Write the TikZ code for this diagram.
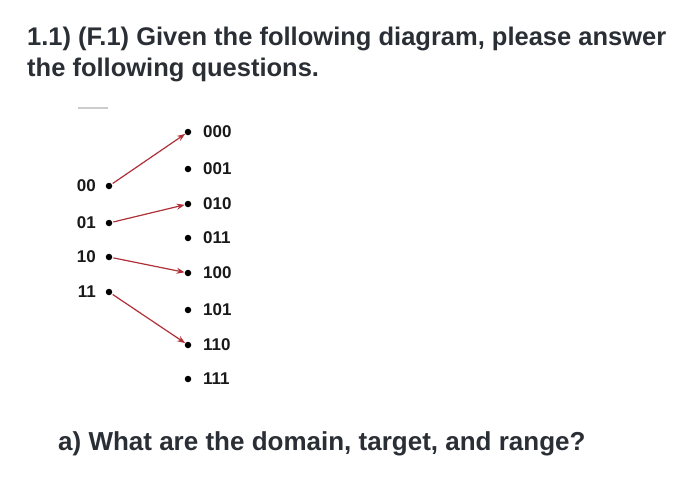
\documentclass[tikz,border=0pt]{standalone}
\usepackage{fontspec}
\setmainfont{Liberation Sans}
\usetikzlibrary{arrows.meta}
\definecolor{txt}{HTML}{2A2E35}
\definecolor{arr}{HTML}{B03038}
\tikzset{
  dot/.style={circle,fill=black,inner sep=0pt,minimum size=6.5pt},
  lbl/.style={inner sep=0pt,font=\bfseries\fontsize{17}{19}\selectfont,text=black!90},
  maparrow/.style={draw=arr,line width=1.2pt,-{Stealth[length=8pt,width=6pt]},shorten >=0pt,shorten <=1pt},
  heading/.style={inner sep=0pt,anchor=base west,text=txt,font=\bfseries\fontsize{25.5}{30}\selectfont}
}
\begin{document}
\begin{tikzpicture}[x=1pt,y=-1pt]
\useasboundingbox (0,0) rectangle (700,479);
\fill[white] (0,0) rectangle (700,479);
% heading
\node[heading] (t1) at (27,45) {1.1) (F.1) Given the following diagram, please answer};
\node[heading] (t2) at (27,76) {the following questions.};
% small grey rule
\coordinate (g1) at (78,108);
\coordinate (g2) at (108,108);
\draw[draw=black!20,line width=1.5pt] (g1) -- (g2);
% domain dots
\node[dot] (d00) at (109,186) {};
\node[dot] (d01) at (109,223) {};
\node[dot] (d10) at (109,257) {};
\node[dot] (d11) at (109,292) {};
\node[lbl,anchor=east] (l00) at (96,186) {00};
\node[lbl,anchor=east] (l01) at (96,223) {01};
\node[lbl,anchor=east] (l10) at (96,257) {10};
\node[lbl,anchor=east] (l11) at (96,292) {11};
% target dots
\node[dot] (r000) at (188,132) {};
\node[dot] (r001) at (188,169) {};
\node[dot] (r010) at (188,204) {};
\node[dot] (r011) at (188,238) {};
\node[dot] (r100) at (188,273) {};
\node[dot] (r101) at (188,310) {};
\node[dot] (r110) at (188,345) {};
\node[dot] (r111) at (188,379) {};
\node[lbl,anchor=west] (s000) at (203,132) {000};
\node[lbl,anchor=west] (s001) at (203,169) {001};
\node[lbl,anchor=west] (s010) at (203,204) {010};
\node[lbl,anchor=west] (s011) at (203,238) {011};
\node[lbl,anchor=west] (s100) at (203,273) {100};
\node[lbl,anchor=west] (s101) at (203,310) {101};
\node[lbl,anchor=west] (s110) at (203,345) {110};
\node[lbl,anchor=west] (s111) at (203,379) {111};
% arrows
\draw[maparrow] (d00) -- (r000);
\draw[maparrow] (d01) -- (r010);
\draw[maparrow] (d10) -- (r100);
\draw[maparrow] (d11) -- (r110);
% question
\node[heading,font=\bfseries\fontsize{26}{30}\selectfont] (q) at (58,450) {a) What are the domain, target, and range?};
\end{tikzpicture}
\end{document}
